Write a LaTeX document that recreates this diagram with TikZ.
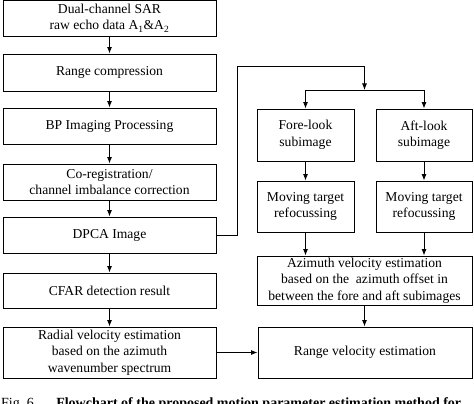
\documentclass[tikz,border=0pt]{standalone}
\usepackage{fontspec}
\setmainfont{Liberation Serif}
\usetikzlibrary{arrows.meta,positioning}

\begin{document}
\begin{tikzpicture}[x=1pt,y=-1pt,font=\fontsize{13.6}{16.6}\selectfont,
  box/.style={draw,line width=0.9pt,align=center,inner sep=0pt},
  flow/.style={-{Latex[length=6.5pt,width=5pt]},line width=0.9pt}]
  \clip (0,0) rectangle (474,404);
  % left column
  \foreach \name/\y/\h/\txt in {raw/18/36/{Dual-channel SAR\\raw echo data A\textsubscript{1}\&A\textsubscript{2}},
      rc/72.5/37/{Range compression},
      bp/126/36/{BP Imaging Processing},
      coreg/182/36/{Co-registration/\\channel imbalance correction},
      dpca/235/36/{DPCA Image},
      cfar/290.5/35/{CFAR detection result},
      radial/352.5/51/{Radial velocity estimation\\based on the azimuth\\wavenumber spectrum}}{
    \node[box,minimum width=213pt,minimum height=\h pt] (\name) at (109.5,\y) {\txt};
  }
  \foreach \a/\b in {raw/rc,rc/bp,bp/coreg,coreg/dpca,dpca/cfar,cfar/radial}
    \draw[flow] (\a) -- (\b);
  % right column
  \node[box,minimum width=97pt,minimum height=52pt] (fore) at (305.5,135) {Fore-look\\subimage};
  \node[box,minimum width=96pt,minimum height=52pt] (aft) at (424,135) {Aft-look\\subimage};
  \node[box,minimum width=97pt,minimum height=51pt] (refocf) at (305.5,206.5) {Moving target\\refocussing};
  \node[box,minimum width=96pt,minimum height=51pt] (refoca) at (424,206.5) {Moving target\\refocussing};
  \node[box,minimum width=215pt,minimum height=49pt] (azim) at (364.5,280.5) {Azimuth velocity estimation\\based on the \ azimuth offset in\\between the fore and aft subimages};
  \node[box,minimum width=214pt,minimum height=51pt] (rangev) at (365,352.5) {Range velocity estimation};
  % connectors
  \coordinate (turn) at (237,66);
  \coordinate (split) at (364.5,90);
  \draw[flow] (dpca.east) -- (dpca.east -| turn) -- (turn) -- (turn -| split) -- (split);
  \draw[flow] (split) -| (fore.north);
  \draw[flow] (split) -| (aft.north);
  \draw[flow] (fore) -- (refocf);
  \draw[flow] (aft) -- (refoca);
  \draw[flow] (refocf) -- (refocf |- azim.north);
  \draw[flow] (refoca) -- (refoca |- azim.north);
  \draw[flow] (azim.south) -- (azim.south |- rangev.north);
  \draw[flow] (radial) -- (rangev);
  % caption, cut off at the bottom as in the source
  \node[anchor=base west,inner sep=0pt,font=\fontsize{14}{17}\selectfont] (caption) at (1,407) {Fig.~6\hspace{1.6em}\textbf{Flowchart of the proposed motion parameter estimation method for}};
\end{tikzpicture}
\end{document}
